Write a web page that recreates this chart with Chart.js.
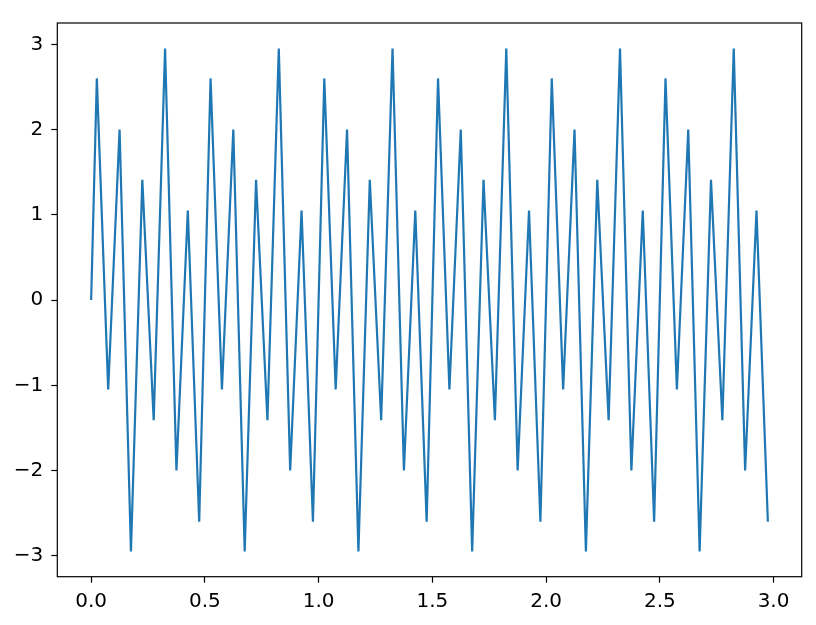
<!DOCTYPE html>
<html>
<head>
<meta charset="utf-8">
<script src="https://cdn.jsdelivr.net/npm/chart.js@4"></script>
<style>
  html, body { margin: 0; padding: 0; background: #fff; }
  #wrap { width: 816px; height: 625px; }
</style>
</head>
<body>
<div id="wrap"><canvas id="signalChart" width="816" height="625"></canvas></div>
<script>
// sample times (only the visible vertices of the trace)
const times = [
    0.000, 0.025, 0.075, 0.125, 0.175, 0.225, 0.275, 0.325, 0.375, 0.425, 0.475,
    0.525, 0.575, 0.625, 0.675, 0.725, 0.775, 0.825, 0.875, 0.925, 0.975,
    1.025, 1.075, 1.125, 1.175, 1.225, 1.275, 1.325, 1.375, 1.425, 1.475,
    1.525, 1.575, 1.625, 1.675, 1.725, 1.775, 1.825, 1.875, 1.925, 1.975,
    2.025, 2.075, 2.125, 2.175, 2.225, 2.275, 2.325, 2.375, 2.425, 2.475,
    2.525, 2.575, 2.625, 2.675, 2.725, 2.775, 2.825, 2.875, 2.925, 2.975
];

const signal = [
    0.00, 2.60, -1.05, 2.00, -2.95, 1.41, -1.41, 2.95, -2.00, 1.05, -2.60,
    2.60, -1.05, 2.00, -2.95, 1.41, -1.41, 2.95, -2.00, 1.05, -2.60,
    2.60, -1.05, 2.00, -2.95, 1.41, -1.41, 2.95, -2.00, 1.05, -2.60,
    2.60, -1.05, 2.00, -2.95, 1.41, -1.41, 2.95, -2.00, 1.05, -2.60,
    2.60, -1.05, 2.00, -2.95, 1.41, -1.41, 2.95, -2.00, 1.05, -2.60,
    2.60, -1.05, 2.00, -2.95, 1.41, -1.41, 2.95, -2.00, 1.05, -2.60
];

const xTicks = [0, 0.5, 1.0, 1.5, 2.0, 2.5, 3.0];
const xTickLabels = ['0.0', '0.5', '1.0', '1.5', '2.0', '2.5', '3.0'];
const yTicks = [-3, -2, -1, 0, 1, 2, 3];
const yTickLabels = ['\u22123', '\u22122', '\u22121', '0', '1', '2', '3'];

Chart.defaults.font.family = '"DejaVu Sans", sans-serif';
Chart.defaults.font.size = 20;
Chart.defaults.color = '#000';

// matplotlib-style box around the axes
const axesBox = {
    id: 'axesBox',
    afterDatasetsDraw(chart) {
        const a = chart.chartArea;
        const ctx = chart.ctx;
        ctx.save();
        ctx.strokeStyle = '#000';
        ctx.lineWidth = 1.2;
        ctx.strokeRect(a.left, a.top, a.right - a.left, a.bottom - a.top);
        ctx.restore();
    }
};

const tickGrid = {
    display: true,
    drawOnChartArea: false,
    drawTicks: true,
    tickLength: 6,
    tickWidth: 1.2,
    tickColor: '#000'
};

const ctx = document.getElementById('signalChart').getContext('2d');
new Chart(ctx, {
    type: 'line',
    data: {
        datasets: [{
            data: times.map((t, i) => ({ x: t, y: signal[i] })),
            borderColor: '#1f77b4',
            borderWidth: 2.2,
            pointRadius: 0,
            tension: 0,
            fill: false
        }]
    },
    options: {
        responsive: false,
        animation: false,
        devicePixelRatio: 1,
        layout: { padding: { left: 0, right: 14.3, top: 23, bottom: 0 } },
        plugins: {
            legend: { display: false },
            tooltip: { enabled: false }
        },
        scales: {
            x: {
                type: 'linear',
                min: -0.14875,
                max: 3.12375,
                border: { display: false },
                grid: tickGrid,
                ticks: {
                    padding: 7,
                    maxRotation: 0,
                    autoSkip: false,
                    callback: (v) => xTickLabels[xTicks.indexOf(v)]
                },
                afterBuildTicks: (scale) => { scale.ticks = xTicks.map(v => ({ value: v })); },
                afterFit: (scale) => { scale.height = 48.3; }
            },
            y: {
                type: 'linear',
                min: -3.245,
                max: 3.25,
                border: { display: false },
                grid: tickGrid,
                ticks: {
                    padding: 8,
                    autoSkip: false,
                    callback: (v) => yTickLabels[yTicks.indexOf(v)]
                },
                afterBuildTicks: (scale) => { scale.ticks = yTicks.map(v => ({ value: v })); },
                afterFit: (scale) => { scale.width = 57.3; }
            }
        }
    },
    plugins: [axesBox]
});
</script>
</body>
</html>
